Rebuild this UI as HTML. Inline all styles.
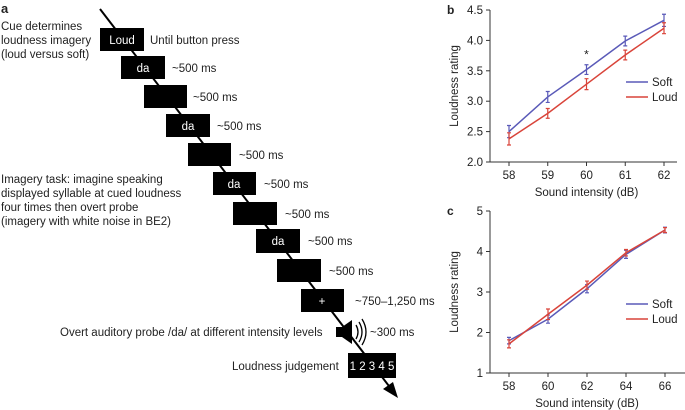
<!DOCTYPE html>
<html><head><meta charset="utf-8"><style>
body{margin:0;background:#fff}
svg{display:block;font-family:"Liberation Sans",Arial,sans-serif}
</style></head><body>
<svg width="685" height="410" viewBox="0 0 685 410">
<g font-size="11.5" fill="#222">
<text x="1" y="13" font-weight="bold" font-size="13">a</text>
<text x="1" y="30">Cue determines</text>
<text x="1" y="44">loudness imagery</text>
<text x="1" y="58">(loud versus soft)</text>
<text x="1" y="183">Imagery task: imagine speaking</text>
<text x="1" y="197">displayed syllable at cued loudness</text>
<text x="1" y="211">four times then overt probe</text>
<text x="1" y="225">(imagery with white noise in BE2)</text>
<line x1="100" y1="9" x2="392" y2="390" stroke="#000" stroke-width="2"/>
<polygon points="398,398 383,389 393,382" fill="#000"/>
<g fill="#000">
<rect x="100" y="28" width="44" height="23"/>
<rect x="121" y="56" width="44" height="23"/>
<rect x="144" y="85" width="43" height="23"/>
<rect x="166" y="114" width="44" height="23"/>
<rect x="188" y="143" width="43" height="23"/>
<rect x="213" y="172" width="43" height="23"/>
<rect x="233" y="202" width="44" height="23"/>
<rect x="256" y="229" width="44" height="24"/>
<rect x="277" y="259" width="44" height="23"/>
<rect x="301" y="289" width="43" height="23"/>
<rect x="348" y="353" width="48" height="25"/>
<polygon points="336,327 342,327 352,320 352,344 342,337 336,337"/>
</g>
<g fill="#fff" text-anchor="middle">
<text x="122" y="44">Loud</text>
<text x="143" y="72">da</text>
<text x="188" y="130">da</text>
<text x="234" y="188">da</text>
<text x="278" y="245">da</text>
<text x="322" y="305">+</text>
<text x="372" y="370">1 2 3 4 5</text>
</g>
<path d="M356,325 q4,7 0,14 M359,322 q6,10 0,20 M362,319 q8,13 0,26" stroke="#000" fill="none" stroke-width="1.3"/>
<text x="150" y="44">Until button press</text>
<text x="172" y="72">~500 ms</text>
<text x="193" y="101">~500 ms</text>
<text x="217" y="130">~500 ms</text>
<text x="239" y="159">~500 ms</text>
<text x="264" y="188">~500 ms</text>
<text x="285" y="218">~500 ms</text>
<text x="308" y="245">~500 ms</text>
<text x="329" y="275">~500 ms</text>
<text x="355" y="305">~750–1,250 ms</text>
<text x="370" y="336">~300 ms</text>
<text x="60" y="336">Overt auditory probe /da/ at different intensity levels</text>
<text x="232" y="370">Loudness judgement</text>
</g>
<g id="chartB"></g>
<g id="chartC"></g>
</svg>
<script>
const bCategories=[58,59,60,61,62];
const bSoft=[2.5,3.07,3.52,3.99,4.33];
const bSoftErr=[0.1,0.09,0.08,0.08,0.1];
const bLoud=[2.38,2.8,3.28,3.76,4.2];
const bLoudErr=[0.1,0.08,0.09,0.08,0.09];
const bYTicks=[2.0,2.5,3.0,3.5,4.0,4.5];
const bYLabels=["2.0","2.5","3.0","3.5","4.0","4.5"];
const cCategories=[58,60,62,64,66];
const cSoft=[1.8,2.33,3.08,3.93,4.53];
const cSoftErr=[0.08,0.1,0.1,0.1,0.07];
const cLoud=[1.72,2.45,3.17,3.97,4.53];
const cLoudErr=[0.1,0.13,0.1,0.08,0.06];
const cYTicks=[1,2,3,4,5];
const cYLabels=["1","2","3","4","5"];
const NS="http://www.w3.org/2000/svg";
function mk(p,t,a){const e=document.createElementNS(NS,t);for(const k in a)e.setAttribute(k,a[k]);p.appendChild(e);return e;}
function draw(g,o){
  const x=v=>o.x0+(v-o.cats[0])/(o.cats[o.cats.length-1]-o.cats[0])*(o.x1-o.x0);
  const y=v=>o.yb-(v-o.ymin)/(o.ymax-o.ymin)*(o.yb-o.yt);
  const ax=mk(g,'path',{d:`M${o.ax},${y(o.ymax)}V${o.yb}H${o.axEnd}`,stroke:'#333',fill:'none','stroke-width':1});
  
  
  o.yt2.forEach((t,i)=>{
    const tk=mk(g,'line',{x1:o.ax-4,x2:o.ax,y1:y(t),y2:y(t),stroke:'#333'});
    
    
    const tl=mk(g,'text',{x:o.ax-7,y:y(t)+4,'text-anchor':'end','font-size':11.5,fill:'#222'});
    tl.textContent=o.yl[i];
    
    
  });
  o.cats.forEach(c=>{
    const tk=mk(g,'line',{x1:x(c),x2:x(c),y1:o.yb,y2:o.yb+4,stroke:'#333'});
    
    
    const tl=mk(g,'text',{x:x(c),y:o.yb+17,'text-anchor':'middle','font-size':11.5,fill:'#222'});
    tl.textContent=c;
    
    
  });
  const xt=mk(g,'text',{x:(o.x0+o.x1)/2,y:o.yb+34,'text-anchor':'middle','font-size':11.5,fill:'#222'});
  xt.textContent='Sound intensity (dB)';
  
  
  const ym=(o.yt+o.yb)/2;
  const yt=mk(g,'text',{x:o.ax-32,y:ym,'text-anchor':'middle','font-size':11.5,fill:'#222',transform:`rotate(-90 ${o.ax-32} ${ym})`});
  yt.textContent='Loudness rating';
  
  
  o.series.forEach(s=>{
    const ln=mk(g,'polyline',{points:o.cats.map((c,i)=>x(c)+','+y(s.v[i])).join(' '),fill:'none',stroke:s.col,'stroke-width':1.5});
    
    
    o.cats.forEach((c,i)=>{
      const X=x(c),a=y(s.v[i]-s.e[i]),b=y(s.v[i]+s.e[i]);
      const eb=mk(g,'path',{d:`M${X},${a}V${b}M${X-2},${a}h4M${X-2},${b}h4`,stroke:s.col,fill:'none','stroke-width':1.2});
      
      
    });
  });
  o.series.forEach((s,i)=>{
    const ly=o.legY+i*15;
    const l=mk(g,'line',{x1:o.legX,x2:o.legX+22,y1:ly,y2:ly,stroke:s.col,'stroke-width':1.5});
    
    
    const t=mk(g,'text',{x:o.legX+26,y:ly+4,'font-size':11.5,fill:'#222'});
    t.textContent=s.label;
    
    
  });
  const pl=mk(g,'text',{x:o.ax-43,y:o.yt+4,'font-size':12,'font-weight':'bold',fill:'#222'});
  pl.textContent=o.label;
  
  
  return {x,y};
}
const B=draw(document.getElementById('chartB'),{cats:bCategories,x0:509,x1:664,ax:490,axEnd:677,yb:162,yt:10,ymin:2,ymax:4.5,yt2:bYTicks,yl:bYLabels,legX:626,legY:82,label:'b',
 series:[{name:'soft',label:'Soft',v:bSoft,e:bSoftErr,col:'#5a5ab8'},{name:'loud',label:'Loud',v:bLoud,e:bLoudErr,col:'#d9443a'}]});
const st=document.createElementNS(NS,'text');
st.setAttribute('x',B.x(bCategories[2]));st.setAttribute('y',B.y(bSoft[2]+0.25)+4);st.setAttribute('text-anchor','middle');st.setAttribute('font-size','12');st.setAttribute('fill','#222');
st.textContent='*';


document.getElementById('chartB').appendChild(st);
draw(document.getElementById('chartC'),{cats:cCategories,x0:509,x1:665,ax:490,axEnd:685,yb:373,yt:211,ymin:1,ymax:5,yt2:cYTicks,yl:cYLabels,legX:626,legY:304,label:'c',
 series:[{name:'soft',label:'Soft',v:cSoft,e:cSoftErr,col:'#5a5ab8'},{name:'loud',label:'Loud',v:cLoud,e:cLoudErr,col:'#d9443a'}]});
</script>
</body></html>
